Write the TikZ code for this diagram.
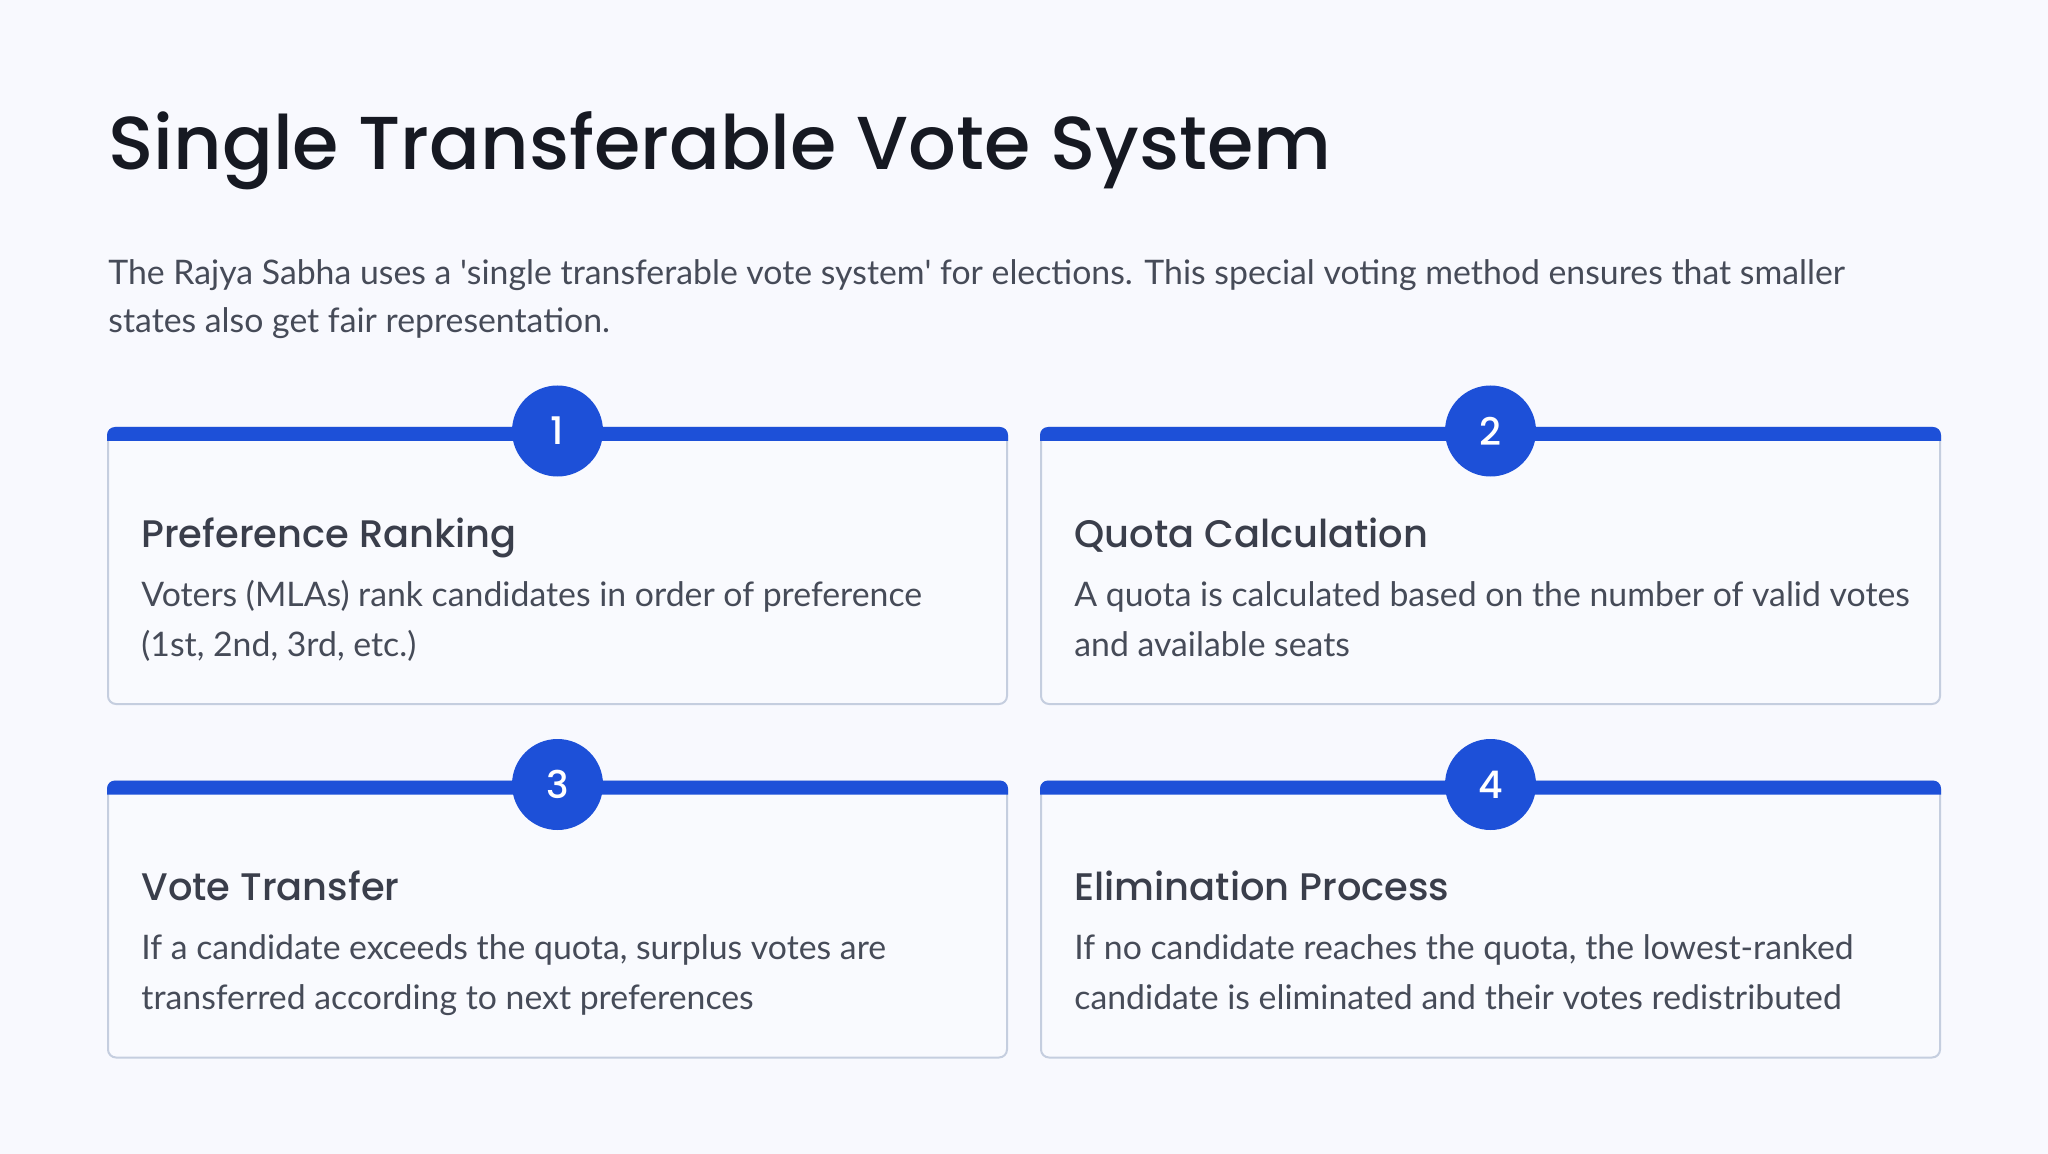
\documentclass[tikz,border=0pt]{standalone}
\usepackage{fontspec}
\setmainfont{Lato}
\newfontfamily\headfont{Poppins Medium}
\usetikzlibrary{positioning}
\definecolor{pagebg}{HTML}{F8F9FE}
\definecolor{cardbg}{HTML}{F9FAFE}
\definecolor{cardline}{HTML}{C5CEDF}
\definecolor{stvblue}{HTML}{1D50D8}
\definecolor{titletxt}{HTML}{161922}
\definecolor{headtxt}{HTML}{3A3E4B}
\definecolor{bodytxt}{HTML}{464B58}

\begin{document}
\begin{tikzpicture}[x=0.5pt,y=-0.5pt,
    card/.style={draw=cardline,line width=1pt,fill=cardbg,rounded corners=4pt,minimum width=449.5pt,minimum height=138pt,inner sep=0pt},
    num/.style={circle,fill=stvblue,text=white,minimum size=45.5pt,inner sep=0pt,font=\headfont\fontsize{19}{19}\selectfont},
    head/.style={anchor=base west,inner sep=0pt,text=headtxt,font=\headfont\fontsize{19.2}{22}\selectfont},
    body/.style={anchor=base west,inner sep=0pt,align=left,text=bodytxt,font=\fontsize{16.9}{25}\selectfont}]
        \fill[pagebg] (0,0) rectangle (2048,1154);
        \useasboundingbox (0,0) rectangle (2048,1154);
        \node[anchor=base west,inner sep=0pt,text=titletxt,font=\headfont\fontsize{37.5}{44}\selectfont] (title) at (108,170) {Single Transferable Vote System};
        % base anchor of a two-line node sits on the last line
        \node[anchor=base west,inner sep=0pt,align=left,text=bodytxt,font=\fontsize{16.9}{24}\selectfont] (intro) at (108,333) {The Rajya Sabha uses a \textquotesingle single transferable vote system\textquotesingle{} for elections. This special voting method ensures that smaller\\states also get fair representation.};
        \node[card] (c1) at (557.5,566) {};
        \node[card] (c2) at (1490.5,566) {};
        \node[card] (c3) at (557.5,919.5) {};
        \node[card] (c4) at (1490.5,919.5) {};
        \foreach \c in {1,...,4} {
            \fill[stvblue] ([yshift=-7pt]c\c.north west) [rounded corners=4pt] -- (c\c.north west) -- (c\c.north east) [sharp corners] -- ([yshift=-7pt]c\c.north east) -- cycle;
            \node[num] (n\c) at ([yshift=-2pt]c\c.north) {\c};
        }
        \node[head] (h1) at ([xshift=17pt,yshift=-60pt]c1.north west) {Preference Ranking};
        \node[body] (b1) at ([xshift=17pt,yshift=-114.5pt]c1.north west) {Voters (MLAs) rank candidates in order of preference\\(1st, 2nd, 3rd, etc.)};
        \node[head] (h2) at ([xshift=17pt,yshift=-60pt]c2.north west) {Quota Calculation};
        \node[body] (b2) at ([xshift=17pt,yshift=-114.5pt]c2.north west) {A quota is calculated based on the number of valid votes\\and available seats};
        \node[head] (h3) at ([xshift=17pt,yshift=-60pt]c3.north west) {Vote Transfer};
        \node[body] (b3) at ([xshift=17pt,yshift=-114.5pt]c3.north west) {If a candidate exceeds the quota, surplus votes are\\transferred according to next preferences};
        \node[head] (h4) at ([xshift=17pt,yshift=-60pt]c4.north west) {Elimination Process};
        \node[body] (b4) at ([xshift=17pt,yshift=-114.5pt]c4.north west) {If no candidate reaches the quota, the lowest-ranked\\candidate is eliminated and their votes redistributed};
    \end{tikzpicture}
\end{document}
